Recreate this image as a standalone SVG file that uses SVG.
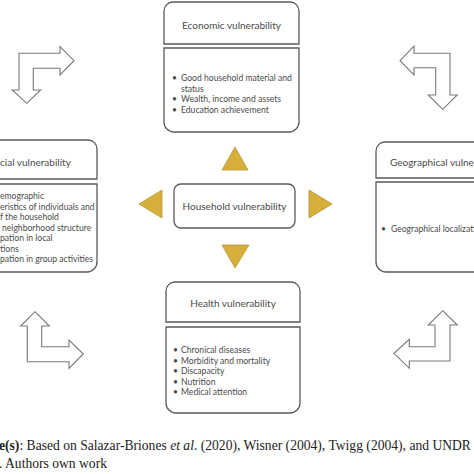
<svg xmlns="http://www.w3.org/2000/svg" width="474" height="474" viewBox="0 0 474 474">
<style>
.box{fill:#fff;stroke:#595959;stroke-width:1.3}
.title{font-family:Lato,"Liberation Sans",sans-serif;font-size:10px;fill:#4a4a4a}
.item{font-family:Lato,"Liberation Sans",sans-serif;font-size:8.6px;fill:#4a4a4a}
.tri{fill:#D5AE3B;stroke:#B8962E;stroke-width:0.8}
.arr{fill:#fff;stroke:#7a7a7a;stroke-width:1.1}
.cap{font-family:"Liberation Serif","Times New Roman",serif;font-size:13.6px;fill:#222}
</style>
<rect width="474" height="474" fill="#fff"/>

<g id="economic">
<path class="box" d="M164,44 V11 A9,9 0 0 1 173,2 H290 A9,9 0 0 1 299,11 V44 Z"/>
<path class="box" d="M164,48 H299 V122 A10,10 0 0 1 289,132 H174 A10,10 0 0 1 164,122 Z"/>
<text class="title" x="231.5" y="28.5" text-anchor="middle">Economic vulnerability</text>
<text class="item" x="172" y="81">•</text><text class="item" x="181" y="81">Good household material and</text>
<text class="item" x="181" y="91.5">status</text>
<text class="item" x="172" y="102">•</text><text class="item" x="181" y="102">Wealth, income and assets</text>
<text class="item" x="172" y="112.5">•</text><text class="item" x="181" y="112.5">Education achievement</text>
</g>

<g id="social">
<path class="box" d="M-40,179 V149 A9,9 0 0 1 -31,140 H88 A9,9 0 0 1 97,149 V179 Z"/>
<path class="box" d="M-40,184 H97 V262 A10,10 0 0 1 87,272 H-30 A10,10 0 0 1 -40,262 Z"/>
<text class="title" x="0" y="166">cial vulnerability</text>
<text class="item" x="0" y="199">emographic</text>
<text class="item" x="0" y="209.5">eristics of individuals and</text>
<text class="item" x="0" y="220">f the household</text>
<text class="item" x="2" y="230.5">neighborhood structure</text>
<text class="item" x="0" y="241">pation in local</text>
<text class="item" x="0" y="251.5">tions</text>
<text class="item" x="0" y="262">pation in group activities</text>
</g>

<g id="geographical">
<path class="box" d="M376,178 V151 A9,9 0 0 1 385,142 H520 V178 Z"/>
<path class="box" d="M376,182 H520 V272 H386 A10,10 0 0 1 376,262 Z"/>
<text class="title" x="390" y="166">Geographical vulner</text>
<text class="item" x="381" y="232">•</text><text class="item" x="391" y="232">Geographical localizatio</text>
</g>

<g id="health">
<path class="box" d="M166,322 V291 A9,9 0 0 1 175,282 H291 A9,9 0 0 1 300,291 V322 Z"/>
<path class="box" d="M166,327 H300 V403 A10,10 0 0 1 290,413 H176 A10,10 0 0 1 166,403 Z"/>
<text class="title" x="233" y="306.5" text-anchor="middle">Health vulnerability</text>
<text class="item" x="173" y="353">•</text><text class="item" x="181" y="353">Chronical diseases</text>
<text class="item" x="173" y="363.5">•</text><text class="item" x="181" y="363.5">Morbidity and mortality</text>
<text class="item" x="173" y="374">•</text><text class="item" x="181" y="374">Discapacity</text>
<text class="item" x="173" y="384.5">•</text><text class="item" x="181" y="384.5">Nutrition</text>
<text class="item" x="173" y="395">•</text><text class="item" x="181" y="395">Medical attention</text>
</g>

<g id="household">
<rect class="box" x="174" y="184" width="121" height="44" rx="7"/>
<text class="title" x="234.5" y="210" text-anchor="middle">Household vulnerability</text>
</g>

<g id="connectors">
<polygon class="tri" points="235,147 248,170 222,170"/>
<polygon class="tri" points="222,245 249,245 235,268"/>
<polygon class="tri" points="162,190 162,218 139,204"/>
<polygon class="tri" points="309,190 309,218 332,204"/>
<polygon class="arr" points="19,53.3 60,53.3 60,46.7 74,60.7 60,75 60,68.3 33.3,68.3 33.3,90 40.7,90 26.7,103.3 12.3,90 19,90"/>
<polygon class="arr" points="400,60.7 414,46 414,53.3 450,53.3 450,95 457.3,95 442.7,109.3 428.3,95 435.7,95 435.7,67.7 414,67.7 414,75"/>
<polygon class="arr" points="35,311.7 49.3,326 41.7,326 41.7,346.7 69,346.7 69,340 83.3,354 69,368.3 69,361.7 27.3,361.7 27.3,326 20.7,326"/>
<polygon class="arr" points="442.7,310.7 457.3,325 450,325 450,361 409.3,361 409.3,368.3 394,353.3 409.3,339.3 409.3,346.7 435,346.7 435,325 428.3,325"/>
</g>

<g id="caption">
<text class="cap" x="-1" y="450"><tspan font-weight="bold">e(s)</tspan>: Based on Salazar-Briones <tspan font-style="italic">et al</tspan>. (2020), Wisner (2004), Twigg (2004), and UNDR</text>
<text class="cap" x="-1" y="468">. Authors own work</text>
</g>
</svg>
